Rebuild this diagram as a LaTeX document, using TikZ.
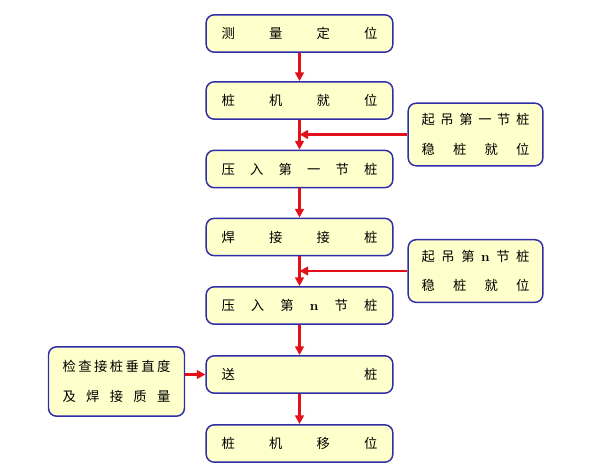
\documentclass[tikz,border=0pt]{standalone}
\usepackage{fontspec}
\usepackage{tikz}
\usetikzlibrary{arrows.meta}
\newfontfamily\cjk{Noto Sans CJK SC}
\definecolor{boxyellow}{HTML}{FFFFCC}
\definecolor{boxblue}{HTML}{2E2EA8}
\definecolor{arrowred}{HTML}{E3101A}
% spread the characters over a fixed width
\newcommand{\spread}[2]{\makebox[#1][s]{#2}}
\tikzset{
 stepbox/.style={draw=boxblue, fill=boxyellow, line width=1.1pt, rounded corners=6pt,
  minimum width=140pt, minimum height=28pt, inner sep=0pt, font=\cjk\fontsize{10}{12}\selectfont},
 sidebox/.style={stepbox, minimum width=101pt, minimum height=47pt, align=center},
 flow/.style={arrowred, line width=1.8pt, -{Triangle[length=6.5pt, width=6.5pt]}}
}

\begin{document}
\begin{tikzpicture}[x=0.75pt, y=-0.75pt]
 \useasboundingbox (0,0) rectangle (596,468);

 \node[stepbox] (cl) at (299.5, 33.5) {\spread{117pt}{测\hfill 量\hfill 定\hfill 位}};
 \node[stepbox] (zw) at (299.5, 100.5) {\spread{117pt}{桩\hfill 机\hfill 就\hfill 位}};
 \node[stepbox] (yr1) at (299.5, 169) {\spread{117pt}{压\hfill 入\hfill 第\hfill 一\hfill 节\hfill 桩}};
 \node[stepbox] (hj) at (299.5, 237) {\spread{117pt}{焊\hfill 接\hfill 接\hfill 桩}};
 \node[stepbox] (yrn) at (299.5, 305.5) {\spread{117pt}{压\hfill 入\hfill 第\hfill \textnormal{\bfseries n}\hfill 节\hfill 桩}};
 \node[stepbox] (sz) at (299.5, 374.5) {\spread{117pt}{送\hfill 桩}};
 \node[stepbox] (yw) at (299.5, 443.5) {\spread{117pt}{桩\hfill 机\hfill 移\hfill 位}};

 \node[sidebox] (qd1) at (475.5, 134.5) {\spread{81pt}{起\hfill 吊\hfill 第\hfill 一\hfill 节\hfill 桩}\\[10pt]
  \spread{81pt}{稳\hfill 桩\hfill 就\hfill 位}};
 \node[sidebox] (qdn) at (475.5, 271) {\spread{81pt}{起\hfill 吊\hfill 第\hfill \textnormal{\bfseries n}\hfill 节\hfill 桩}\\[10pt]
  \spread{81pt}{稳\hfill 桩\hfill 就\hfill 位}};
 \node[sidebox, minimum width=102pt, minimum height=52pt] (jc) at (116.5, 381.5)
  {\spread{81pt}{检\hfill 查\hfill 接\hfill 桩\hfill 垂\hfill 直\hfill 度}\\[10pt]
  \spread{81pt}{及\hfill 焊\hfill 接\hfill 质\hfill 量}};

 % main flow
 \draw[flow] (cl) -- (zw);
 \draw[flow] (zw) -- (yr1);
 \draw[flow] (yr1) -- (hj);
 \draw[flow] (hj) -- (yrn);
 \draw[flow] (yrn) -- (sz);
 \draw[flow] (sz) -- (yw);

 % side inputs
 \draw[flow] (qd1.west) -- (qd1.west -| zw.south);
 \draw[flow] (qdn.west) -- (qdn.west -| hj.south);
 \draw[flow] (jc.east |- sz.west) -- (sz.west);
\end{tikzpicture}
\end{document}
